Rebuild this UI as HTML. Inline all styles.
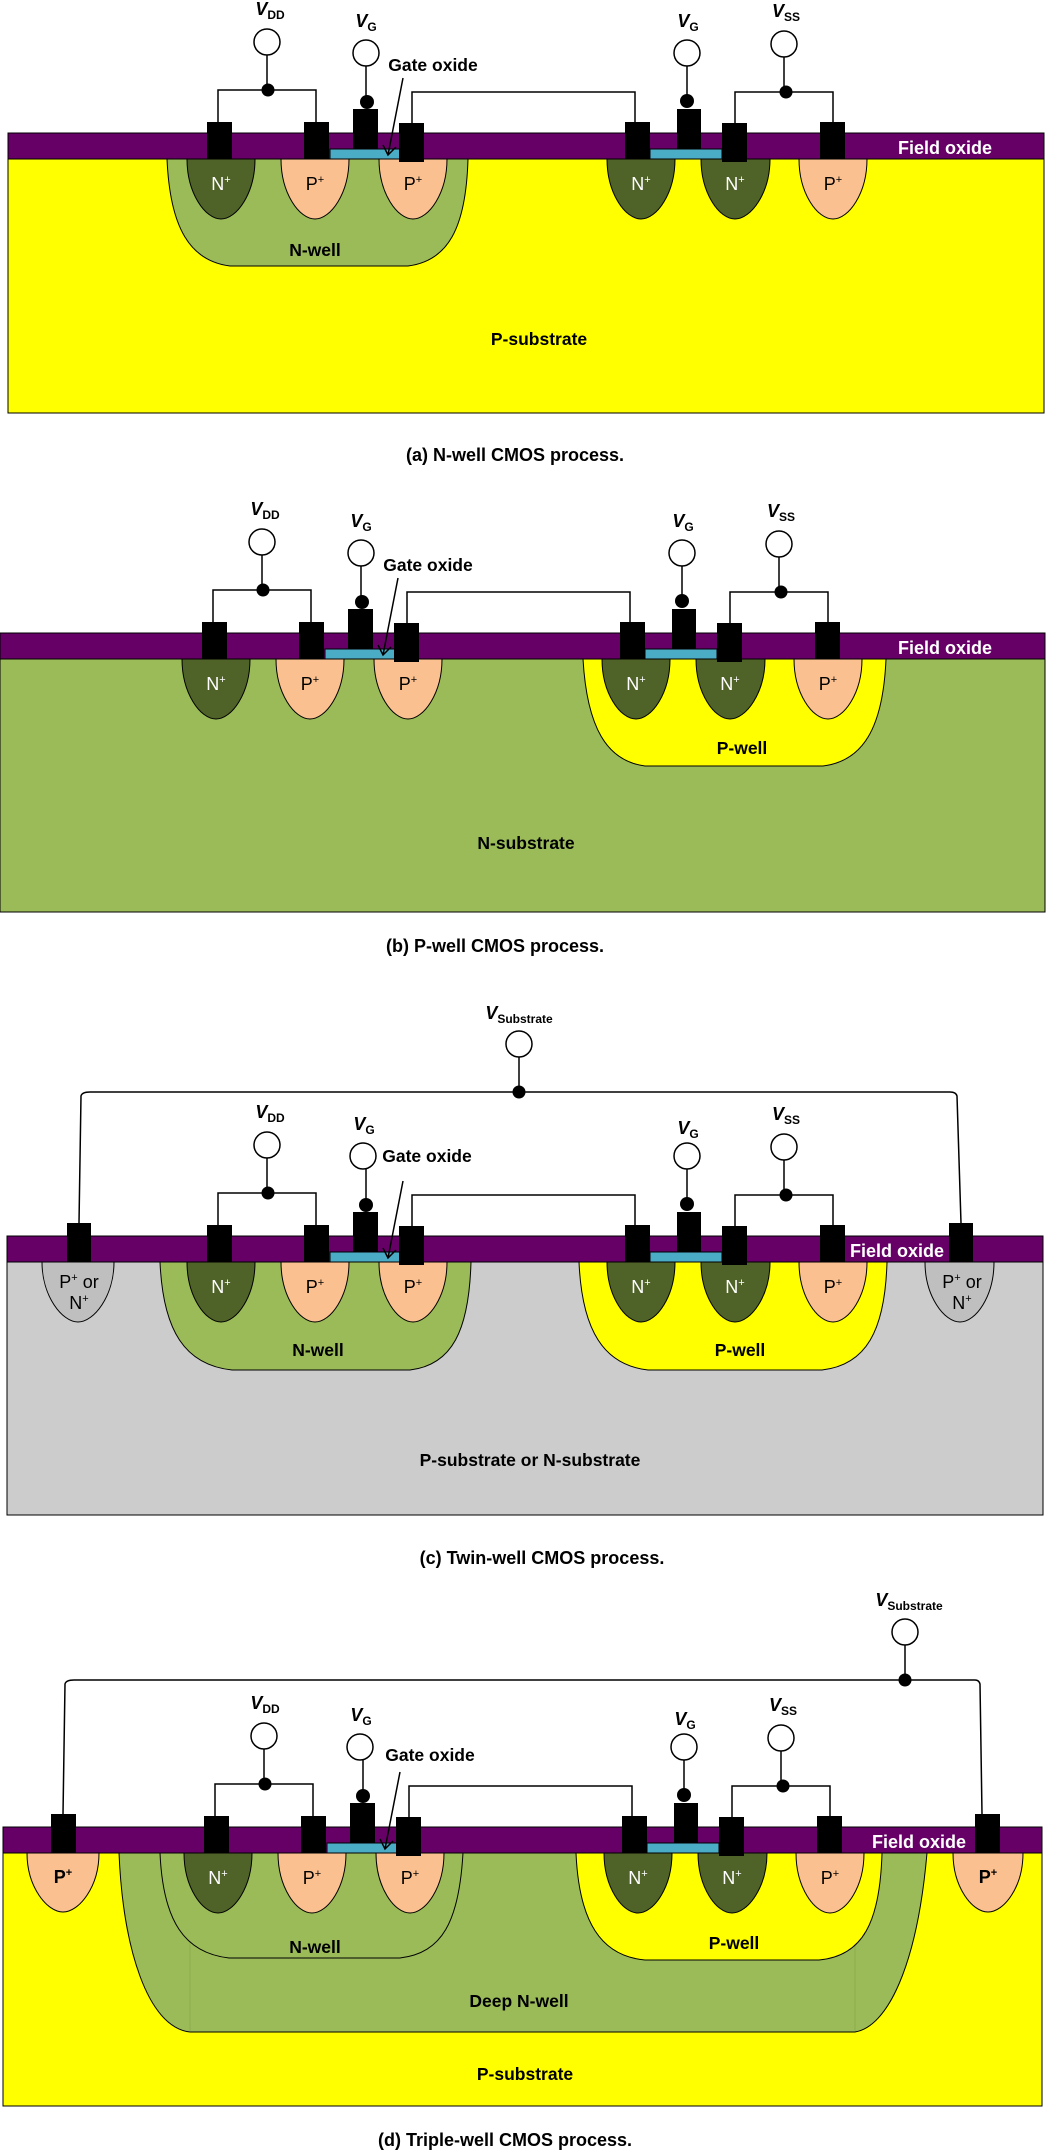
<!DOCTYPE html>
<html><head><meta charset="utf-8"><style>
html,body{margin:0;padding:0;background:#fff}
svg{display:block}
text{font-family:"Liberation Sans",Arial,sans-serif}
.b{font-weight:bold}
.lbl{font-size:17.5px;font-weight:bold;text-anchor:middle}
.fo{font-size:18px}
.dl{font-size:18px;text-anchor:middle}
.v{font-size:18px;font-weight:bold;font-style:italic;text-anchor:middle}
.vs{font-size:12px;font-style:normal}
.cap{font-size:18px;font-weight:bold;text-anchor:middle}
.w{stroke:#000;stroke-width:1.5;fill:none}
.o{stroke:#000;stroke-width:1}
</style></head><body>
<svg width="1047" height="2150" viewBox="0 0 1047 2150" xmlns="http://www.w3.org/2000/svg">

<!-- ============ PANEL A ============ -->
<g transform="translate(0,133)">
<rect x="8" y="26" width="1036" height="254" fill="#ffff00" class="o"/>
<path d="M167,26 C170,95 190,128 230,133 L408,133 C448,128 466,95 468,26 Z" fill="#9bbb59" class="o"/>
<path d="M187,26 C187,60 205,86 221,86 C237,86 255,60 255,26 Z" fill="#4f6228" class="o"/>
<path d="M281,26 C281,60 299,86 315,86 C331,86 349,60 349,26 Z" fill="#fac090" class="o"/>
<path d="M379,26 C379,60 397,86 413,86 C429,86 447,60 447,26 Z" fill="#fac090" class="o"/>
<path d="M607,26 C607,60 625,86 641,86 C657,86 675,60 675,26 Z" fill="#4f6228" class="o"/>
<path d="M701,26 C701,60 719,86 735,86 C751,86 770,60 770,26 Z" fill="#4f6228" class="o"/>
<path d="M799,26 C799,60 817,86 833,86 C849,86 867,60 867,26 Z" fill="#fac090" class="o"/>
<rect x="8" y="0" width="1036" height="26" fill="#660066" class="o"/>
<rect x="330" y="16" width="70" height="10" fill="#4bacc6" class="o"/>
<rect x="650" y="16" width="72" height="10" fill="#4bacc6" class="o"/>
<rect x="207" y="-11" width="25" height="37" fill="#000"/>
<rect x="304" y="-11" width="25" height="37" fill="#000"/>
<rect x="353" y="-24" width="25" height="40" fill="#000"/>
<rect x="399" y="-10" width="25" height="39" fill="#000"/>
<rect x="625" y="-11" width="25" height="37" fill="#000"/>
<rect x="677" y="-24" width="24" height="40" fill="#000"/>
<rect x="722" y="-10" width="25" height="39" fill="#000"/>
<rect x="820" y="-11" width="25" height="37" fill="#000"/>
<path class="w" d="M218,-11 V-43 H316 V-11 M267,-78 V-43 M366,-67 V-31 M412,-10 V-41 H635 V-11 M687,-67 V-32 M735,-10 V-41 H833 V-11 M784,-76 V-41 M403,-55 L388,22 M383,12 L388,22 L396,14"/>
<circle cx="267" cy="-91" r="13" fill="#fff" stroke="#000" stroke-width="1.5"/>
<circle cx="366" cy="-80" r="13" fill="#fff" stroke="#000" stroke-width="1.5"/>
<circle cx="687" cy="-80" r="13" fill="#fff" stroke="#000" stroke-width="1.5"/>
<circle cx="784" cy="-89" r="13" fill="#fff" stroke="#000" stroke-width="1.5"/>
<circle cx="268" cy="-43" r="6.5" fill="#000"/>
<circle cx="367" cy="-31" r="7" fill="#000"/>
<circle cx="687" cy="-32" r="7" fill="#000"/>
<circle cx="786" cy="-41" r="6.5" fill="#000"/>
<text class="v" x="270" y="-118">V<tspan class="vs" dy="4">DD</tspan></text>
<text class="v" x="366" y="-106">V<tspan class="vs" dy="4">G</tspan></text>
<text class="v" x="688" y="-106">V<tspan class="vs" dy="4">G</tspan></text>
<text class="v" x="786" y="-116">V<tspan class="vs" dy="4">SS</tspan></text>
<text class="lbl" x="433" y="-62">Gate oxide</text>
<text class="lbl fo" x="945" y="21" fill="#fff">Field oxide</text>
<text class="dl" x="221" y="57" fill="#fff">N<tspan font-size="11" dy="-7">+</tspan></text>
<text class="dl" x="315" y="57">P<tspan font-size="11" dy="-7">+</tspan></text>
<text class="dl" x="413" y="57">P<tspan font-size="11" dy="-7">+</tspan></text>
<text class="dl" x="641" y="57" fill="#fff">N<tspan font-size="11" dy="-7">+</tspan></text>
<text class="dl" x="735" y="57" fill="#fff">N<tspan font-size="11" dy="-7">+</tspan></text>
<text class="dl" x="833" y="57">P<tspan font-size="11" dy="-7">+</tspan></text>
<text class="lbl" x="315" y="123">N-well</text>
<text class="lbl" x="539" y="212">P-substrate</text>
</g>
<text class="cap" x="515" y="461">(a) N-well CMOS process.</text>

<!-- ============ PANEL B ============ -->
<g transform="translate(-5,633)">
<rect x="5" y="26" width="1045" height="253" fill="#9bbb59" class="o"/>
<path d="M588,26 C592,95 612,128 650,133 L828,133 C868,128 888,95 891,26 Z" fill="#ffff00" class="o"/>
<path d="M187,26 C187,60 205,86 221,86 C237,86 255,60 255,26 Z" fill="#4f6228" class="o"/>
<path d="M281,26 C281,60 299,86 315,86 C331,86 349,60 349,26 Z" fill="#fac090" class="o"/>
<path d="M379,26 C379,60 397,86 413,86 C429,86 447,60 447,26 Z" fill="#fac090" class="o"/>
<path d="M607,26 C607,60 625,86 641,86 C657,86 675,60 675,26 Z" fill="#4f6228" class="o"/>
<path d="M701,26 C701,60 719,86 735,86 C751,86 770,60 770,26 Z" fill="#4f6228" class="o"/>
<path d="M799,26 C799,60 817,86 833,86 C849,86 867,60 867,26 Z" fill="#fac090" class="o"/>
<rect x="5" y="0" width="1045" height="26" fill="#660066" class="o"/>
<rect x="330" y="16" width="70" height="10" fill="#4bacc6" class="o"/>
<rect x="650" y="16" width="72" height="10" fill="#4bacc6" class="o"/>
<rect x="207" y="-11" width="25" height="37" fill="#000"/>
<rect x="304" y="-11" width="25" height="37" fill="#000"/>
<rect x="353" y="-24" width="25" height="40" fill="#000"/>
<rect x="399" y="-10" width="25" height="39" fill="#000"/>
<rect x="625" y="-11" width="25" height="37" fill="#000"/>
<rect x="677" y="-24" width="24" height="40" fill="#000"/>
<rect x="722" y="-10" width="25" height="39" fill="#000"/>
<rect x="820" y="-11" width="25" height="37" fill="#000"/>
<path class="w" d="M218,-11 V-43 H316 V-11 M267,-78 V-43 M366,-67 V-31 M412,-10 V-41 H635 V-11 M687,-67 V-32 M735,-10 V-41 H833 V-11 M784,-76 V-41 M403,-55 L388,22 M383,12 L388,22 L396,14"/>
<circle cx="267" cy="-91" r="13" fill="#fff" stroke="#000" stroke-width="1.5"/>
<circle cx="366" cy="-80" r="13" fill="#fff" stroke="#000" stroke-width="1.5"/>
<circle cx="687" cy="-80" r="13" fill="#fff" stroke="#000" stroke-width="1.5"/>
<circle cx="784" cy="-89" r="13" fill="#fff" stroke="#000" stroke-width="1.5"/>
<circle cx="268" cy="-43" r="6.5" fill="#000"/>
<circle cx="367" cy="-31" r="7" fill="#000"/>
<circle cx="687" cy="-32" r="7" fill="#000"/>
<circle cx="786" cy="-41" r="6.5" fill="#000"/>
<text class="v" x="270" y="-118">V<tspan class="vs" dy="4">DD</tspan></text>
<text class="v" x="366" y="-106">V<tspan class="vs" dy="4">G</tspan></text>
<text class="v" x="688" y="-106">V<tspan class="vs" dy="4">G</tspan></text>
<text class="v" x="786" y="-116">V<tspan class="vs" dy="4">SS</tspan></text>
<text class="lbl" x="433" y="-62">Gate oxide</text>
<text class="lbl fo" x="950" y="21" fill="#fff">Field oxide</text>
<text class="dl" x="221" y="57" fill="#fff">N<tspan font-size="11" dy="-7">+</tspan></text>
<text class="dl" x="315" y="57">P<tspan font-size="11" dy="-7">+</tspan></text>
<text class="dl" x="413" y="57">P<tspan font-size="11" dy="-7">+</tspan></text>
<text class="dl" x="641" y="57" fill="#fff">N<tspan font-size="11" dy="-7">+</tspan></text>
<text class="dl" x="735" y="57" fill="#fff">N<tspan font-size="11" dy="-7">+</tspan></text>
<text class="dl" x="833" y="57">P<tspan font-size="11" dy="-7">+</tspan></text>
<text class="lbl" x="747" y="121">P-well</text>
<text class="lbl" x="531" y="216">N-substrate</text>
</g>
<text class="cap" x="495" y="952">(b) P-well CMOS process.</text>

<!-- ============ PANEL C ============ -->
<g transform="translate(0,1236)">
<rect x="7" y="26" width="1036" height="253" fill="#cccccc" class="o"/>
<path d="M160,26 C163,95 185,129 232,134 L410,134 C452,129 469,95 471,26 Z" fill="#9bbb59" class="o"/>
<path d="M579,26 C582,95 604,129 648,134 L822,134 C866,129 885,95 887,26 Z" fill="#ffff00" class="o"/>
<path d="M42,26 C42,60 62,86 78,86 C94,86 114,60 114,26 Z" fill="#bfbfbf" class="o"/>
<path d="M925,26 C925,60 944,86 960,86 C976,86 994,60 994,26 Z" fill="#bfbfbf" class="o"/>
<path d="M187,26 C187,60 205,86 221,86 C237,86 255,60 255,26 Z" fill="#4f6228" class="o"/>
<path d="M281,26 C281,60 299,86 315,86 C331,86 349,60 349,26 Z" fill="#fac090" class="o"/>
<path d="M379,26 C379,60 397,86 413,86 C429,86 447,60 447,26 Z" fill="#fac090" class="o"/>
<path d="M607,26 C607,60 625,86 641,86 C657,86 675,60 675,26 Z" fill="#4f6228" class="o"/>
<path d="M701,26 C701,60 719,86 735,86 C751,86 770,60 770,26 Z" fill="#4f6228" class="o"/>
<path d="M799,26 C799,60 817,86 833,86 C849,86 867,60 867,26 Z" fill="#fac090" class="o"/>
<rect x="7" y="0" width="1036" height="26" fill="#660066" class="o"/>
<rect x="330" y="16" width="70" height="10" fill="#4bacc6" class="o"/>
<rect x="650" y="16" width="72" height="10" fill="#4bacc6" class="o"/>
<rect x="67" y="-13" width="24" height="39" fill="#000"/>
<rect x="949" y="-13" width="24" height="39" fill="#000"/>
<rect x="207" y="-11" width="25" height="37" fill="#000"/>
<rect x="304" y="-11" width="25" height="37" fill="#000"/>
<rect x="353" y="-24" width="25" height="40" fill="#000"/>
<rect x="399" y="-10" width="25" height="39" fill="#000"/>
<rect x="625" y="-11" width="25" height="37" fill="#000"/>
<rect x="677" y="-24" width="24" height="40" fill="#000"/>
<rect x="722" y="-10" width="25" height="39" fill="#000"/>
<rect x="820" y="-11" width="25" height="37" fill="#000"/>
<path class="w" d="M79,-13 L81,-140 Q82,-144 90,-144 H950 Q956,-144 957,-140 L961,-13 M519,-179 V-144 M218,-11 V-43 H316 V-11 M267,-78 V-43 M366,-67 V-31 M412,-10 V-41 H635 V-11 M687,-67 V-32 M735,-10 V-41 H833 V-11 M784,-76 V-41 M403,-55 L388,22 M383,12 L388,22 L396,14"/>
<circle cx="519" cy="-192" r="13" fill="#fff" stroke="#000" stroke-width="1.5"/>
<circle cx="519" cy="-144" r="6.5" fill="#000"/>
<circle cx="267" cy="-91" r="13" fill="#fff" stroke="#000" stroke-width="1.5"/>
<circle cx="363" cy="-80" r="13" fill="#fff" stroke="#000" stroke-width="1.5"/>
<circle cx="687" cy="-80" r="13" fill="#fff" stroke="#000" stroke-width="1.5"/>
<circle cx="784" cy="-89" r="13" fill="#fff" stroke="#000" stroke-width="1.5"/>
<circle cx="268" cy="-43" r="6.5" fill="#000"/>
<circle cx="366" cy="-31" r="7" fill="#000"/>
<circle cx="687" cy="-32" r="7" fill="#000"/>
<circle cx="786" cy="-41" r="6.5" fill="#000"/>
<text class="v" x="519" y="-217">V<tspan class="vs" dy="4">Substrate</tspan></text>
<text class="v" x="270" y="-118">V<tspan class="vs" dy="4">DD</tspan></text>
<text class="v" x="364" y="-106">V<tspan class="vs" dy="4">G</tspan></text>
<text class="v" x="688" y="-102">V<tspan class="vs" dy="4">G</tspan></text>
<text class="v" x="786" y="-116">V<tspan class="vs" dy="4">SS</tspan></text>
<text class="lbl" x="427" y="-74">Gate oxide</text>
<text class="lbl fo" x="897" y="21" fill="#fff">Field oxide</text>
<text class="dl" x="79" y="52">P<tspan font-size="11" dy="-7">+</tspan><tspan dy="7"> or</tspan></text>
<text class="dl" x="79" y="73">N<tspan font-size="11" dy="-7">+</tspan></text>
<text class="dl" x="962" y="52">P<tspan font-size="11" dy="-7">+</tspan><tspan dy="7"> or</tspan></text>
<text class="dl" x="962" y="73">N<tspan font-size="11" dy="-7">+</tspan></text>
<text class="dl" x="221" y="57" fill="#fff">N<tspan font-size="11" dy="-7">+</tspan></text>
<text class="dl" x="315" y="57">P<tspan font-size="11" dy="-7">+</tspan></text>
<text class="dl" x="413" y="57">P<tspan font-size="11" dy="-7">+</tspan></text>
<text class="dl" x="641" y="57" fill="#fff">N<tspan font-size="11" dy="-7">+</tspan></text>
<text class="dl" x="735" y="57" fill="#fff">N<tspan font-size="11" dy="-7">+</tspan></text>
<text class="dl" x="833" y="57">P<tspan font-size="11" dy="-7">+</tspan></text>
<text class="lbl" x="318" y="120">N-well</text>
<text class="lbl" x="740" y="120">P-well</text>
<text class="lbl" x="530" y="230">P-substrate or N-substrate</text>
</g>
<text class="cap" x="542" y="1564">(c) Twin-well CMOS process.</text>

<!-- ============ PANEL D ============ -->
<g transform="translate(-3,1827)">
<rect x="6" y="26" width="1039" height="253" fill="#ffff00" class="o"/>
<path d="M122,26 C126,120 150,200 193,205 L858,205 C890,200 920,140 930,26 Z" fill="#9bbb59" class="o"/>
<path d="M193,30 V204 M858,30 V204" stroke="#8aa84a" stroke-width="0.8"/>
<path d="M163,26 C166,95 188,126 232,131 L403,131 C445,126 462,95 466,26 Z" fill="#9bbb59" class="o"/>
<path d="M579,26 C582,95 604,129 648,133 L822,133 C866,129 883,95 885,26 Z" fill="#ffff00" class="o"/>
<path d="M30,26 C30,60 50,85 66,85 C82,85 102,60 102,26 Z" fill="#fac090" class="o"/>
<path d="M956,26 C956,60 975,85 991,85 C1007,85 1026,60 1026,26 Z" fill="#fac090" class="o"/>
<path d="M187,26 C187,60 205,86 221,86 C237,86 255,60 255,26 Z" fill="#4f6228" class="o"/>
<path d="M281,26 C281,60 299,86 315,86 C331,86 349,60 349,26 Z" fill="#fac090" class="o"/>
<path d="M379,26 C379,60 397,86 413,86 C429,86 447,60 447,26 Z" fill="#fac090" class="o"/>
<path d="M607,26 C607,60 625,86 641,86 C657,86 675,60 675,26 Z" fill="#4f6228" class="o"/>
<path d="M701,26 C701,60 719,86 735,86 C751,86 770,60 770,26 Z" fill="#4f6228" class="o"/>
<path d="M799,26 C799,60 817,86 833,86 C849,86 867,60 867,26 Z" fill="#fac090" class="o"/>
<rect x="6" y="0" width="1039" height="26" fill="#660066" class="o"/>
<rect x="330" y="16" width="70" height="10" fill="#4bacc6" class="o"/>
<rect x="650" y="16" width="72" height="10" fill="#4bacc6" class="o"/>
<rect x="54" y="-13" width="25" height="39" fill="#000"/>
<rect x="978" y="-13" width="25" height="39" fill="#000"/>
<rect x="207" y="-11" width="25" height="37" fill="#000"/>
<rect x="304" y="-11" width="25" height="37" fill="#000"/>
<rect x="353" y="-24" width="25" height="40" fill="#000"/>
<rect x="399" y="-10" width="25" height="39" fill="#000"/>
<rect x="625" y="-11" width="25" height="37" fill="#000"/>
<rect x="677" y="-24" width="24" height="40" fill="#000"/>
<rect x="722" y="-10" width="25" height="39" fill="#000"/>
<rect x="820" y="-11" width="25" height="37" fill="#000"/>
<path class="w" d="M66,-13 L68,-143 Q69,-147 77,-147 H978 Q982,-147 983,-143 L985,-13 M908,-182 V-147 M218,-11 V-43 H316 V-11 M267,-78 V-43 M366,-67 V-31 M412,-10 V-41 H635 V-11 M687,-67 V-32 M735,-10 V-41 H833 V-11 M784,-76 V-41 M403,-55 L388,22 M383,12 L388,22 L396,14"/>
<circle cx="908" cy="-195" r="13" fill="#fff" stroke="#000" stroke-width="1.5"/>
<circle cx="908" cy="-147" r="6.5" fill="#000"/>
<circle cx="267" cy="-91" r="13" fill="#fff" stroke="#000" stroke-width="1.5"/>
<circle cx="363" cy="-80" r="13" fill="#fff" stroke="#000" stroke-width="1.5"/>
<circle cx="687" cy="-80" r="13" fill="#fff" stroke="#000" stroke-width="1.5"/>
<circle cx="784" cy="-89" r="13" fill="#fff" stroke="#000" stroke-width="1.5"/>
<circle cx="268" cy="-43" r="6.5" fill="#000"/>
<circle cx="366" cy="-31" r="7" fill="#000"/>
<circle cx="687" cy="-32" r="7" fill="#000"/>
<circle cx="786" cy="-41" r="6.5" fill="#000"/>
<text class="v" x="912" y="-221">V<tspan class="vs" dy="4">Substrate</tspan></text>
<text class="v" x="268" y="-118">V<tspan class="vs" dy="4">DD</tspan></text>
<text class="v" x="364" y="-106">V<tspan class="vs" dy="4">G</tspan></text>
<text class="v" x="688" y="-102">V<tspan class="vs" dy="4">G</tspan></text>
<text class="v" x="786" y="-116">V<tspan class="vs" dy="4">SS</tspan></text>
<text class="lbl" x="433" y="-66">Gate oxide</text>
<text class="lbl fo" x="922" y="21" fill="#fff">Field oxide</text>
<text class="dl b" x="66" y="56">P<tspan font-size="11" dy="-7">+</tspan></text>
<text class="dl b" x="991" y="56">P<tspan font-size="11" dy="-7">+</tspan></text>
<text class="dl" x="221" y="57" fill="#fff">N<tspan font-size="11" dy="-7">+</tspan></text>
<text class="dl" x="315" y="57">P<tspan font-size="11" dy="-7">+</tspan></text>
<text class="dl" x="413" y="57">P<tspan font-size="11" dy="-7">+</tspan></text>
<text class="dl" x="641" y="57" fill="#fff">N<tspan font-size="11" dy="-7">+</tspan></text>
<text class="dl" x="735" y="57" fill="#fff">N<tspan font-size="11" dy="-7">+</tspan></text>
<text class="dl" x="833" y="57">P<tspan font-size="11" dy="-7">+</tspan></text>
<text class="lbl" x="318" y="126">N-well</text>
<text class="lbl" x="737" y="122">P-well</text>
<text class="lbl" x="522" y="180">Deep N-well</text>
<text class="lbl" x="528" y="253">P-substrate</text>
</g>
<text class="cap" x="505" y="2146">(d) Triple-well CMOS process.</text>
</svg>
</body></html>
